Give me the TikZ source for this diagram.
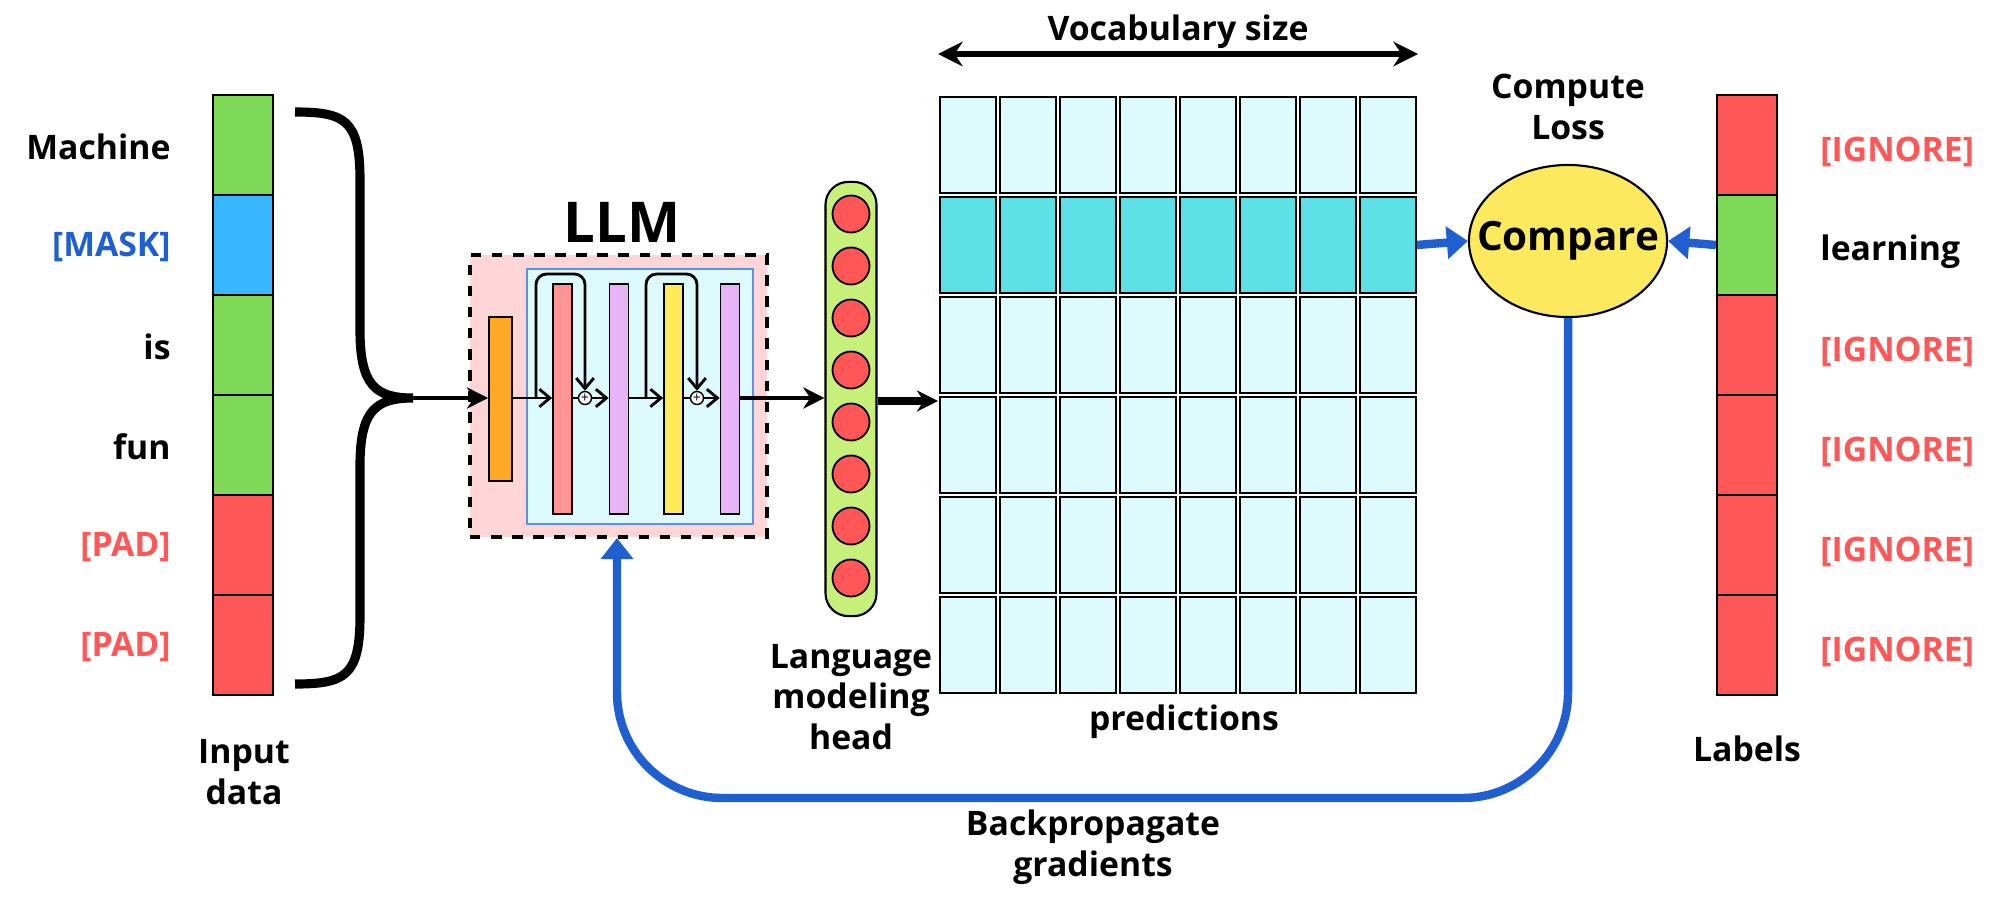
\documentclass[tikz,border=0pt]{standalone}
\usepackage{fontspec}
\setmainfont{Open Sans}
\usetikzlibrary{arrows.meta,shapes.geometric}
\definecolor{tgreen}{HTML}{7ED957}
\definecolor{tblue}{HTML}{38B6FF}
\definecolor{tred}{HTML}{FF5757}
\definecolor{mblue}{HTML}{1F5FD0}
\definecolor{cellc}{HTML}{DDFAFC}
\definecolor{cellh}{HTML}{5CE0E6}
\definecolor{headg}{HTML}{C6F07A}
\definecolor{cyel}{HTML}{FDE95E}
\definecolor{llmbg}{HTML}{FFD6D8}
\definecolor{innerbg}{HTML}{DDFAFC}
\definecolor{borange}{HTML}{FFA726}
\definecolor{bpurp}{HTML}{E8B4F8}
\definecolor{bred}{HTML}{FF9494}
\definecolor{byel}{HTML}{FFEB5A}
\tikzset{
 tok/.style={draw=black,line width=0.6pt,minimum width=0.6cm,minimum height=1cm,inner sep=0pt},
 lbl/.style={font=\bfseries\fontsize{9.6}{11.5}\selectfont,align=center},
 cell/.style={draw=black,line width=0.4pt,fill=cellc,minimum width=0.56cm,minimum height=0.96cm,inner sep=0pt},
 bar/.style={draw=black,line width=0.5pt,inner sep=0pt,minimum width=0.19cm},
 arr/.style={-{Stealth[length=6pt,width=6pt]},line width=1.2pt},
 sarr/.style={-{Straight Barb[length=3pt,width=5pt]},line width=0.8pt},
 barr/.style={-{Triangle[length=6pt,width=9pt]},line width=2.4pt,draw=mblue},
 plus/.style={circle,draw=black,fill=white,inner sep=0pt,minimum size=0.13cm,line width=0.4pt,font=\fontsize{4}{4}\selectfont}
}
\begin{document}
\begin{tikzpicture}[x=0.01cm,y=-0.01cm]
\useasboundingbox (0,0) rectangle (1992,903);
% input column
\foreach \i/\c/\t/\tc in {0/tgreen/Machine/black,1/tblue/[MASK]/mblue,2/tgreen/is/black,3/tgreen/fun/black,4/tred/[PAD]/tred,5/tred/[PAD]/tred}{
 \node[tok,fill=\c] (in\i) at (243,{145+100*\i}) {};
 \node[lbl,text=\tc,anchor=east] (int\i) at (183,{147+100*\i}) {\t};
}
\node[lbl] (inlab) at (244,772) {Input\\data};
% brace
\draw[line width=2.6pt] (295,112) .. controls (345,112) and (360,120) .. (360,180) -- (360,330) .. controls (360,385) and (375,398) .. (413,398)
 .. controls (375,398) and (360,411) .. (360,466) -- (360,616) .. controls (360,676) and (345,684) .. (295,684);
\coordinate (btip) at (413,398);
% LLM
\node[font=\bfseries\fontsize{16}{19}\selectfont] (llmt) at (622,222) {LLM};
\node[draw=black,dashed,line width=1.3pt,fill=llmbg,minimum width=2.97cm,minimum height=2.82cm,inner sep=0pt] (llm) at (618.5,396) {};
\node[draw=mblue!70,line width=0.6pt,fill=innerbg,minimum width=2.26cm,minimum height=2.55cm,inner sep=0pt] (inner) at (640,396.5) {};
\node[bar,fill=borange,minimum width=0.23cm,minimum height=1.64cm] (b0) at (500.5,399) {};
\node[bar,fill=bred,minimum height=2.3cm] (b1) at (562.5,399) {};
\node[bar,fill=bpurp,minimum height=2.3cm] (b2) at (619,399) {};
\node[bar,fill=byel,minimum height=2.3cm] (b3) at (673.5,399) {};
\node[bar,fill=bpurp,minimum height=2.3cm] (b4) at (730,399) {};
\node[plus] (p1) at (585,398) {+};
\node[plus] (p2) at (697,398) {+};
\draw[arr] (btip) -- (b0.west |- btip);
\draw[sarr] (b0.east |- btip) -- (b1.west |- btip);
\draw[line width=0.8pt] (b1.east |- btip) -- (p1);
\draw[sarr] (p1) -- (b2.west |- btip);
\draw[sarr] (b2.east |- btip) -- (b3.west |- btip);
\draw[line width=0.8pt] (b3.east |- btip) -- (p2);
\draw[sarr] (p2) -- (b4.west |- btip);
\draw[sarr,rounded corners=3pt] (536,398) -- (536,274) -- (585,274) -- (p1.north);
\draw[sarr,rounded corners=3pt] (646,398) -- (646,274) -- (697,274) -- (p2.north);
% head
\node[draw=black,line width=0.6pt,fill=headg,rounded corners=6.5pt,minimum width=0.51cm,minimum height=4.34cm,inner sep=0pt] (head) at (851,399) {};
\foreach \j in {0,...,7}{\node[circle,draw=black,line width=0.5pt,fill=tred,minimum size=0.37cm,inner sep=0pt] (hc\j) at (851,{214+52*\j}) {};}
\draw[arr] (b4.east |- btip) -- (head.west |- btip);
\node[lbl] (headt) at (851,697) {Language\\modeling\\head};
% grid
\foreach \r in {0,...,5}{\foreach \c in {0,...,7}{
 \pgfmathsetmacro{\fc}{\r==1?"cellh":"cellc"}
 \node[cell,fill=\fc] (g\r\c) at ({968+60*\c},{145+100*\r}) {};
}}
\coordinate (gin) at (938,401);
\draw[arr,line width=2pt] (head.east |- gin) -- (gin);
\draw[{Stealth[length=7pt,width=7pt]}-{Stealth[length=7pt,width=7pt]},line width=1.6pt] (938,54) -- (1418,54);
\node[lbl] (voc) at (1178,32) {Vocabulary size};
\node[lbl] (pred) at (1184,722) {predictions};
% compare
\node[ellipse,draw=black,line width=0.6pt,fill=cyel,minimum width=1.98cm,minimum height=1.52cm] (cmp) at (1568,241) {};
\node[lbl,font=\bfseries\fontsize{11.5}{14}\selectfont] (cmpt) at (1568,241) {Compare};
\node[lbl] (closs) at (1568,107) {Compute\\Loss};
% labels
\foreach \i/\c/\t/\tc in {0/tred/[IGNORE]/tred,1/tgreen/learning/black,2/tred/[IGNORE]/tred,3/tred/[IGNORE]/tred,4/tred/[IGNORE]/tred,5/tred/[IGNORE]/tred}{
 \node[tok,fill=\c] (lb\i) at (1747,{145+100*\i}) {};
 \node[lbl,text=\tc,anchor=west] (lbt\i) at (1808,{152+100*\i}) {\t};
}
\node[lbl] (labt) at (1747,749) {Labels};
\draw[barr] (g17.east) -- (cmp.west);
\draw[barr] (lb1.west) -- (cmp.east);
\draw[barr,rounded corners=30pt] (cmp.south) -- (1568,798) -- (617,798) -- (617,538);
\node[lbl] (bp) at (1093,847) {Backpropagate\\gradients};
\end{tikzpicture}
\end{document}
